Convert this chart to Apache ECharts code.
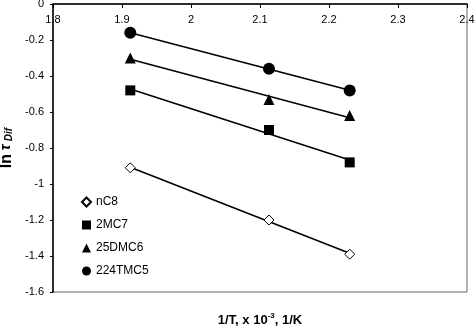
<!DOCTYPE html>
<html>
<head>
<meta charset="utf-8">
<script src="https://cdn.jsdelivr.net/npm/echarts@6/dist/echarts.min.js"></script>
<style>
  html, body { margin: 0; padding: 0; background: #fff; }
  #chart { width: 474px; height: 326px; }
</style>
</head>
<body>
<div id="chart"></div>
<script>
// Inverse temperature, 1/T x 10^-3 (1/K)
const invT = [1.912, 2.113, 2.230];

// ln(tau_Dif) for each hydrocarbon
const seriesNames = ['nC8', '2MC7', '25DMC6', '224TMC5'];
const nC8 = [-0.91, -1.20, -1.39];
const mc7 = [-0.48, -0.70, -0.88];
const dmc6 = [-0.30, -0.53, -0.62];
const tmc5 = [-0.16, -0.36, -0.48];

const xTicks = { min: 1.8, max: 2.4, step: 0.1 };
const yTicks = { min: -1.6, max: 0, step: 0.2 };

const FONT = 'Liberation Sans, Arial, sans-serif';

// least-squares straight line through one series, evaluated at its first and last x
function fitLine(xs, ys) {
  const n = xs.length;
  const mx = xs.reduce((a, b) => a + b, 0) / n;
  const my = ys.reduce((a, b) => a + b, 0) / n;
  let sxy = 0, sxx = 0;
  for (let i = 0; i < n; i++) {
    sxy += (xs[i] - mx) * (ys[i] - my);
    sxx += (xs[i] - mx) * (xs[i] - mx);
  }
  const k = sxy / sxx, b = my - k * mx;
  const x0 = xs[0], x1 = xs[n - 1];
  return [[x0, k * x0 + b], [x1, k * x1 + b]];
}

const values = [nC8, mc7, dmc6, tmc5];
const markers = [
  { symbol: 'diamond', size: 10, style: { color: '#fff', borderColor: '#000', borderWidth: 1, opacity: 1 } },
  { symbol: 'rect', size: 10, style: { color: '#000', opacity: 1 } },
  { symbol: 'triangle', size: 11, style: { color: '#000', opacity: 1 } },
  { symbol: 'circle', size: 12, style: { color: '#000', opacity: 1 } }
];

const series = [];
values.forEach((ys) => {
  series.push({
    type: 'line',
    data: fitLine(invT, ys),
    showSymbol: false,
    silent: true,
    lineStyle: { color: '#000', width: 1.6 },
    z: 2
  });
});
values.forEach((ys, i) => {
  series.push({
    name: seriesNames[i],
    type: 'scatter',
    data: invT.map((x, j) => [x, ys[j]]),
    symbol: markers[i].symbol,
    symbolSize: markers[i].size,
    itemStyle: markers[i].style,
    z: 3
  });
});

const chart = echarts.init(document.getElementById('chart'), null, { renderer: 'canvas' });
chart.setOption({
  animation: false,
  backgroundColor: '#fff',
  grid: {
    left: 53, right: 7, top: 4, bottom: 34,
    outerBoundsMode: 'none',
    show: true, borderColor: '#666', borderWidth: 1
  },
  legend: {
    data: seriesNames,
    orient: 'vertical',
    left: 76, top: 191,
    itemWidth: 9, itemHeight: 9,
    itemGap: 11,
    textStyle: { fontFamily: FONT, fontSize: 12, color: '#000' }
  },
  xAxis: {
    type: 'value',
    position: 'top',
    min: xTicks.min, max: xTicks.max, interval: xTicks.step,
    axisLine: { show: true, onZero: false, lineStyle: { color: '#000', width: 1.5 } },
    axisTick: { show: true, inside: true, length: 4, lineStyle: { color: '#000' } },
    axisLabel: {
      inside: true, margin: 10,
      fontFamily: FONT, fontSize: 11, color: '#000',
      formatter: v => String(Math.round(v * 10) / 10)
    },
    splitLine: { show: false },
    name: '1/T, x 10{sup|-3}, 1/K',
    nameLocation: 'middle',
    nameGap: -324,
    nameTextStyle: {
      fontFamily: FONT, fontSize: 13, fontWeight: 'bold', color: '#000',
      rich: {
        sup: { fontFamily: FONT, fontSize: 8, fontWeight: 'bold', color: '#000', verticalAlign: 'top', padding: [0, 0, 8, 0] }
      }
    }
  },
  yAxis: {
    type: 'value',
    min: yTicks.min, max: yTicks.max, interval: yTicks.step,
    axisLine: { show: true, onZero: false, lineStyle: { color: '#000', width: 1.5 } },
    axisTick: { show: true, length: 3, lineStyle: { color: '#000' } },
    axisLabel: {
      margin: 9, fontFamily: FONT, fontSize: 11, color: '#000',
      formatter: v => String(Math.round(v * 10) / 10)
    },
    splitLine: { show: false },
    name: '{ln|ln} {tau|τ} {sub|Dif}',
    nameLocation: 'middle',
    nameGap: 31,
    nameRotate: 90,
    nameTextStyle: {
      rich: {
        ln: { fontFamily: FONT, fontSize: 16, fontWeight: 'bold', color: '#000' },
        tau: { fontFamily: FONT, fontSize: 15, fontStyle: 'italic', fontWeight: 'bold', color: '#000' },
        sub: { fontFamily: FONT, fontSize: 10, fontStyle: 'italic', fontWeight: 'bold', color: '#000', padding: [6, 0, 0, 0] }
      }
    }
  },
  series: series
});
</script>
</body>
</html>
